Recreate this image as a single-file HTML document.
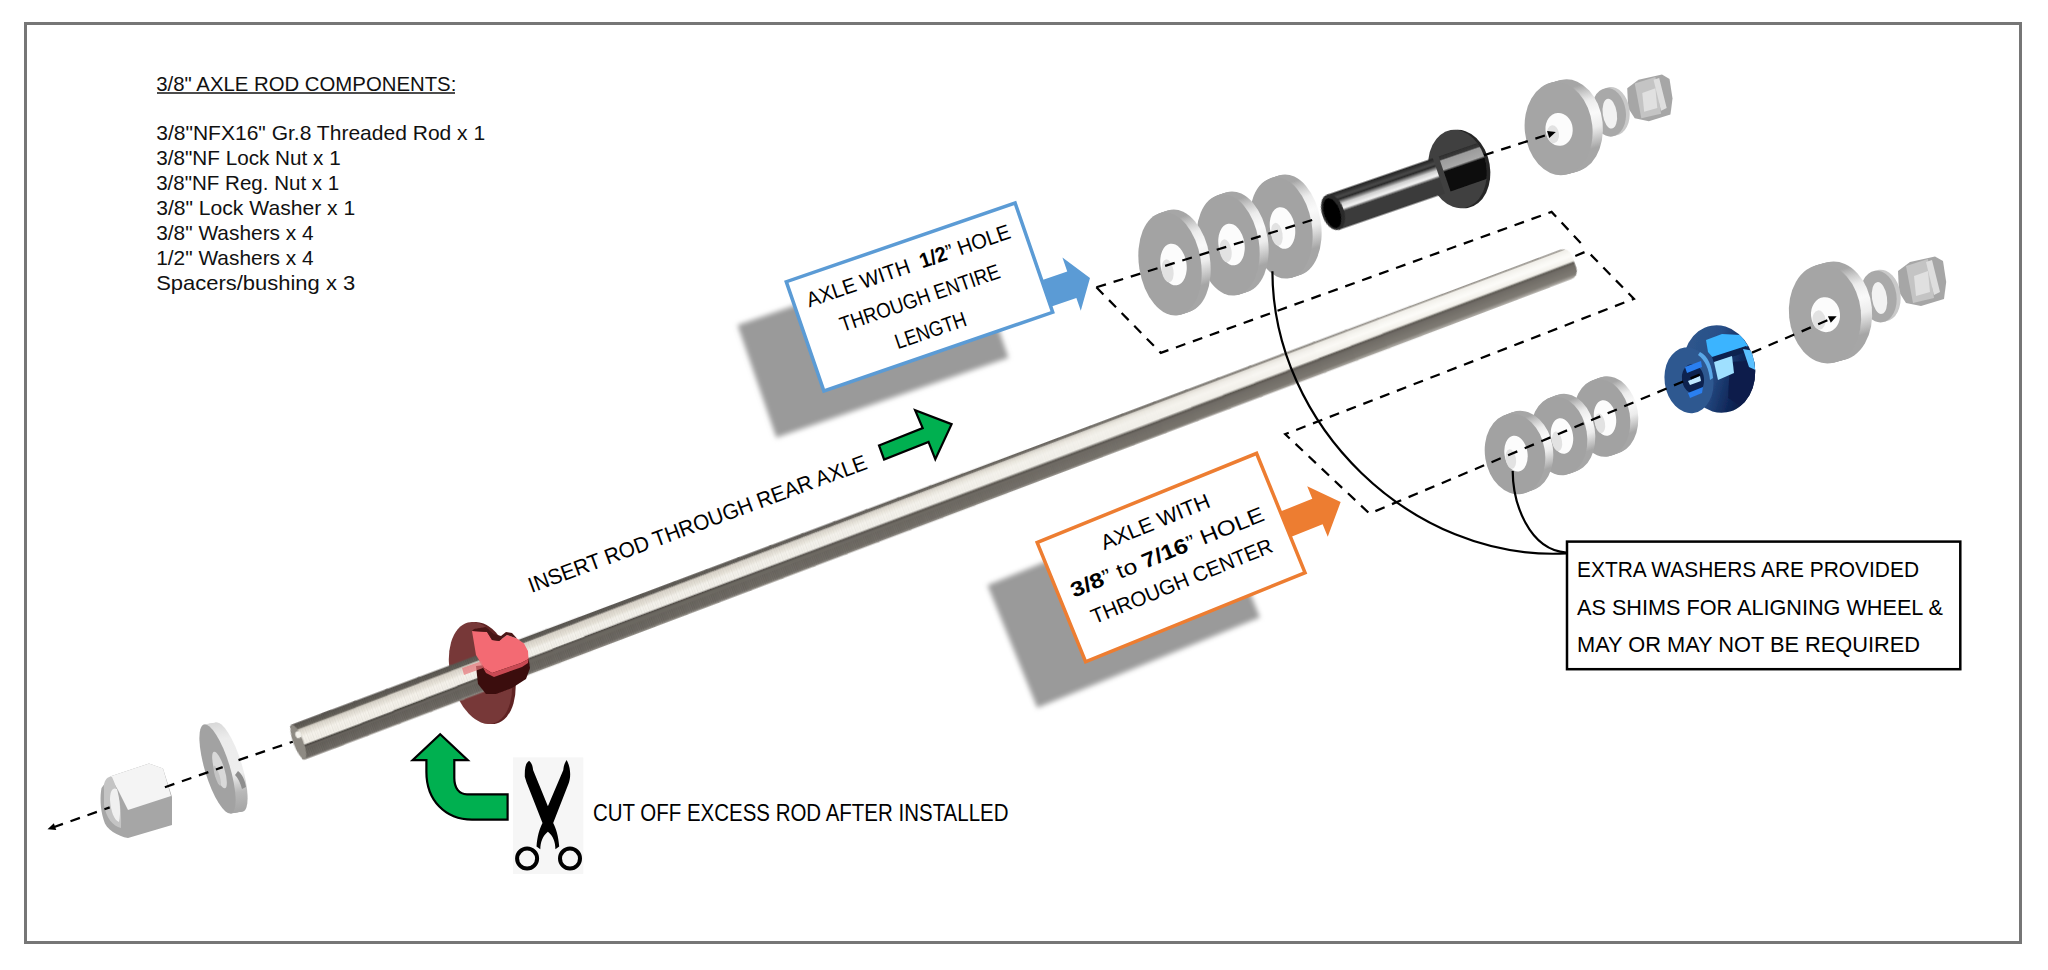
<!DOCTYPE html>
<html><head><meta charset="utf-8"><style>
html,body{margin:0;padding:0;background:#fff;}
svg{display:block;}
</style></head><body>
<svg width="2048" height="970" viewBox="0 0 2048 970">
<rect width="2048" height="970" fill="#fff"/>

<defs>
  <filter id="shblur" x="-20%" y="-20%" width="140%" height="140%"><feGaussianBlur stdDeviation="2.6"/></filter>
  <filter id="b1" x="-20%" y="-20%" width="140%" height="140%"><feGaussianBlur stdDeviation="0.8"/></filter>
  <filter id="b05" x="-20%" y="-20%" width="140%" height="140%"><feGaussianBlur stdDeviation="0.5"/></filter>
  <linearGradient id="rodg" x1="0" y1="0" x2="0" y2="1">
    <stop offset="0" stop-color="#4e4a45"/>
    <stop offset="0.10" stop-color="#66625c"/>
    <stop offset="0.14" stop-color="#cdc7bd"/>
    <stop offset="0.34" stop-color="#e3dfd5"/>
    <stop offset="0.40" stop-color="#f6f4ee"/>
    <stop offset="0.54" stop-color="#f3f1ea"/>
    <stop offset="0.58" stop-color="#47433e"/>
    <stop offset="0.64" stop-color="#67635d"/>
    <stop offset="0.92" stop-color="#6f6b65"/>
    <stop offset="1" stop-color="#9a968f"/>
  </linearGradient>
  <linearGradient id="redg" x1="0" y1="0" x2="0" y2="1">
    <stop offset="0" stop-color="#e85a62"/>
    <stop offset="0.2" stop-color="#f56a72"/>
    <stop offset="0.45" stop-color="#f77880"/>
    <stop offset="0.52" stop-color="#300808"/>
    <stop offset="0.7" stop-color="#4a1212"/>
    <stop offset="1" stop-color="#6a2626"/>
  </linearGradient>
  <linearGradient id="blkg" x1="0" y1="0" x2="0" y2="1">
    <stop offset="0" stop-color="#1e1e1e"/>
    <stop offset="0.15" stop-color="#4a4a4a"/>
    <stop offset="0.22" stop-color="#2a2a2a"/>
    <stop offset="0.35" stop-color="#cfcfcf"/>
    <stop offset="0.48" stop-color="#f4f4f4"/>
    <stop offset="0.56" stop-color="#3a3a3a"/>
    <stop offset="1" stop-color="#3a3a3a"/>
  </linearGradient>
  <radialGradient id="wedge" cx="0.97" cy="0.38" r="0.38">
    <stop offset="0" stop-color="#fafafa"/>
    <stop offset="0.4" stop-color="#ececec"/>
    <stop offset="1" stop-color="#a6a6a6"/>
  </radialGradient>
  <filter id="b07" x="-5%" y="-50%" width="110%" height="200%"><feGaussianBlur stdDeviation="0.7"/></filter>
  <linearGradient id="rodg2" x1="0" y1="0" x2="0" y2="1">
    <stop offset="0" stop-color="#8a8680"/>
    <stop offset="0.05" stop-color="#9c9891"/>
    <stop offset="0.09" stop-color="#e8e5dd"/>
    <stop offset="0.22" stop-color="#f4f2ec"/>
    <stop offset="0.48" stop-color="#f9f8f4"/>
    <stop offset="0.56" stop-color="#e6e3da"/>
    <stop offset="0.62" stop-color="#85817a"/>
    <stop offset="0.8" stop-color="#77736c"/>
    <stop offset="0.95" stop-color="#8a867f"/>
    <stop offset="1" stop-color="#b5b2ac"/>
  </linearGradient>
  <pattern id="thr" patternUnits="userSpaceOnUse" width="2.2" height="10"><rect width="1.1" height="10" fill="#3a3733"/></pattern>
  <pattern id="thr2" patternUnits="userSpaceOnUse" width="2.6" height="10"><rect width="1.0" height="10" fill="#8a857c"/></pattern>
  <linearGradient id="wedge2" x1="0" y1="0.2" x2="1" y2="0.8">
    <stop offset="0" stop-color="#bdbdbd"/>
    <stop offset="0.45" stop-color="#f4f4f4"/>
    <stop offset="0.7" stop-color="#e8e8e8"/>
    <stop offset="0.85" stop-color="#8e8e8e"/>
    <stop offset="1" stop-color="#a8a8a8"/>
  </linearGradient>
  <linearGradient id="wedge3" x1="0" y1="0" x2="0" y2="1">
    <stop offset="0" stop-color="#d8d8d8"/>
    <stop offset="0.2" stop-color="#ececec"/>
    <stop offset="0.6" stop-color="#eeeeee"/>
    <stop offset="0.8" stop-color="#b8b8b8"/>
    <stop offset="1" stop-color="#a5a5a5"/>
  </linearGradient>
  <linearGradient id="bflange" x1="0" y1="0" x2="1" y2="0.6">
    <stop offset="0" stop-color="#31598e"/>
    <stop offset="0.5" stop-color="#284f88"/>
    <stop offset="0.8" stop-color="#10285a"/>
    <stop offset="1" stop-color="#0a1a40"/>
  </linearGradient>
  <linearGradient id="bhub" x1="0" y1="0" x2="0" y2="1">
    <stop offset="0" stop-color="#1a3a70"/>
    <stop offset="0.1" stop-color="#2e8ee0"/>
    <stop offset="0.16" stop-color="#3ab4ff"/>
    <stop offset="0.32" stop-color="#3ab4ff"/>
    <stop offset="0.38" stop-color="#0a2050"/>
    <stop offset="0.46" stop-color="#0e2a60"/>
    <stop offset="0.52" stop-color="#a8e4ff"/>
    <stop offset="0.64" stop-color="#8fd8ff"/>
    <stop offset="0.7" stop-color="#0c2350"/>
    <stop offset="1" stop-color="#0a1a40"/>
  </linearGradient>
  <linearGradient id="collg" x1="0" y1="0" x2="0" y2="1">
    <stop offset="0" stop-color="#2c2c2c"/>
    <stop offset="0.1" stop-color="#3a3a3a"/>
    <stop offset="0.14" stop-color="#9c9c9c"/>
    <stop offset="0.38" stop-color="#a8a8a8"/>
    <stop offset="0.45" stop-color="#0c0c0c"/>
    <stop offset="1" stop-color="#0c0c0c"/>
  </linearGradient>
</defs>
<rect x="25.5" y="23.5" width="1995" height="919" fill="none" stroke="#767676" stroke-width="3"/><g font-family='"Liberation Sans", sans-serif' fill="#111"><text x="156.3" y="90.6" font-size="21" font-weight="normal" text-anchor="start" textLength="300" lengthAdjust="spacingAndGlyphs" >3/8&quot; AXLE ROD COMPONENTS:</text><rect x="157" y="92.2" width="298" height="1.6" fill="#222"/><text x="156.2" y="139.5" font-size="21" font-weight="normal" text-anchor="start" textLength="329" lengthAdjust="spacingAndGlyphs" >3/8&quot;NFX16&quot; Gr.8 Threaded Rod x 1</text><text x="156.2" y="164.9" font-size="21" font-weight="normal" text-anchor="start" textLength="184.5" lengthAdjust="spacingAndGlyphs" >3/8&quot;NF Lock Nut x 1</text><text x="156.2" y="190.0" font-size="21" font-weight="normal" text-anchor="start" textLength="183" lengthAdjust="spacingAndGlyphs" >3/8&quot;NF Reg. Nut x 1</text><text x="156.2" y="215.0" font-size="21" font-weight="normal" text-anchor="start" textLength="199" lengthAdjust="spacingAndGlyphs" >3/8&quot; Lock Washer x 1</text><text x="156.2" y="239.7" font-size="21" font-weight="normal" text-anchor="start" textLength="157.5" lengthAdjust="spacingAndGlyphs" >3/8&quot; Washers x 4</text><text x="156.2" y="264.7" font-size="21" font-weight="normal" text-anchor="start" textLength="157.5" lengthAdjust="spacingAndGlyphs" >1/2&quot; Washers x 4</text><text x="156.2" y="289.8" font-size="21" font-weight="normal" text-anchor="start" textLength="199" lengthAdjust="spacingAndGlyphs" >Spacers/bushing x 3</text></g><g transform="translate(873.00,341.40) rotate(-19)"><rect x="-122.75" y="-59.5" width="245.5" height="119" fill="#9a9a9a" filter="url(#shblur)"/></g><g transform="translate(1123.70,601.30) rotate(-22.1)"><rect x="-120.15" y="-66.15" width="240.3" height="132.3" fill="#9a9a9a" filter="url(#shblur)"/></g><g filter="url(#b07)"><ellipse cx="0" cy="0" rx="30" ry="52" fill="#5e2222" transform="translate(484.00,673.00) rotate(-14)" /><ellipse cx="0" cy="0" rx="30" ry="52" fill="#773737" transform="translate(480.50,673.00) rotate(-14)" /></g><g transform="translate(296,743) rotate(-20.648)"><defs><linearGradient id="rg0" x1="0" y1="0" x2="0" y2="1"><stop offset="0.000" stop-color="#5a5651"/><stop offset="0.160" stop-color="#6a665f"/><stop offset="0.200" stop-color="#d9d4ca"/><stop offset="0.330" stop-color="#ece8df"/><stop offset="0.400" stop-color="#f7f4ed"/><stop offset="0.600" stop-color="#f3f0e9"/><stop offset="0.640" stop-color="#45413c"/><stop offset="0.690" stop-color="#66625c"/><stop offset="0.940" stop-color="#716d67"/><stop offset="1.000" stop-color="#9a968f"/></linearGradient><linearGradient id="rg1" x1="0" y1="0" x2="0" y2="1"><stop offset="0.000" stop-color="#5a5651"/><stop offset="0.160" stop-color="#6a665f"/><stop offset="0.200" stop-color="#d9d4ca"/><stop offset="0.330" stop-color="#ece8df"/><stop offset="0.400" stop-color="#f7f4ed"/><stop offset="0.600" stop-color="#f3f0e9"/><stop offset="0.640" stop-color="#45413c"/><stop offset="0.690" stop-color="#66625c"/><stop offset="0.940" stop-color="#716d67"/><stop offset="1.000" stop-color="#9a968f"/></linearGradient><linearGradient id="rg2" x1="0" y1="0" x2="0" y2="1"><stop offset="0.000" stop-color="#5a5651"/><stop offset="0.154" stop-color="#6a665f"/><stop offset="0.194" stop-color="#d9d4ca"/><stop offset="0.327" stop-color="#ece8df"/><stop offset="0.397" stop-color="#f7f4ed"/><stop offset="0.593" stop-color="#f3f0e9"/><stop offset="0.633" stop-color="#45413c"/><stop offset="0.682" stop-color="#66625c"/><stop offset="0.938" stop-color="#716d67"/><stop offset="1.000" stop-color="#9a968f"/></linearGradient><linearGradient id="rg3" x1="0" y1="0" x2="0" y2="1"><stop offset="0.000" stop-color="#5a5651"/><stop offset="0.147" stop-color="#69655f"/><stop offset="0.187" stop-color="#d9d4ca"/><stop offset="0.323" stop-color="#ebe7de"/><stop offset="0.393" stop-color="#f7f4ed"/><stop offset="0.584" stop-color="#f3f0e9"/><stop offset="0.623" stop-color="#46423d"/><stop offset="0.672" stop-color="#67635d"/><stop offset="0.936" stop-color="#716d67"/><stop offset="1.000" stop-color="#9a968f"/></linearGradient><linearGradient id="rg4" x1="0" y1="0" x2="0" y2="1"><stop offset="0.000" stop-color="#5a5651"/><stop offset="0.139" stop-color="#69655e"/><stop offset="0.179" stop-color="#d9d3c9"/><stop offset="0.320" stop-color="#ebe7dd"/><stop offset="0.390" stop-color="#f7f4ed"/><stop offset="0.576" stop-color="#f3f0ea"/><stop offset="0.614" stop-color="#47433e"/><stop offset="0.662" stop-color="#67635d"/><stop offset="0.933" stop-color="#716d67"/><stop offset="1.000" stop-color="#9a968f"/></linearGradient><linearGradient id="rg5" x1="0" y1="0" x2="0" y2="1"><stop offset="0.000" stop-color="#5a5651"/><stop offset="0.132" stop-color="#69655e"/><stop offset="0.172" stop-color="#d9d3c9"/><stop offset="0.316" stop-color="#eae6dd"/><stop offset="0.386" stop-color="#f7f4ed"/><stop offset="0.567" stop-color="#f3f0ea"/><stop offset="0.605" stop-color="#47433e"/><stop offset="0.653" stop-color="#68645d"/><stop offset="0.931" stop-color="#716d67"/><stop offset="1.000" stop-color="#9a968f"/></linearGradient><linearGradient id="rg6" x1="0" y1="0" x2="0" y2="1"><stop offset="0.000" stop-color="#5a5651"/><stop offset="0.125" stop-color="#68645e"/><stop offset="0.165" stop-color="#d8d3c9"/><stop offset="0.312" stop-color="#eae6dc"/><stop offset="0.382" stop-color="#f6f4ee"/><stop offset="0.559" stop-color="#f3f1ea"/><stop offset="0.596" stop-color="#48443f"/><stop offset="0.643" stop-color="#68645e"/><stop offset="0.928" stop-color="#716d67"/><stop offset="1.000" stop-color="#9a968f"/></linearGradient><linearGradient id="rg7" x1="0" y1="0" x2="0" y2="1"><stop offset="0.000" stop-color="#5a5651"/><stop offset="0.117" stop-color="#68645e"/><stop offset="0.157" stop-color="#d8d3c9"/><stop offset="0.309" stop-color="#e9e5db"/><stop offset="0.379" stop-color="#f6f4ee"/><stop offset="0.550" stop-color="#f3f1ea"/><stop offset="0.586" stop-color="#494540"/><stop offset="0.633" stop-color="#69655e"/><stop offset="0.926" stop-color="#716d67"/><stop offset="1.000" stop-color="#9a968f"/></linearGradient><linearGradient id="rg8" x1="0" y1="0" x2="0" y2="1"><stop offset="0.000" stop-color="#5a5651"/><stop offset="0.110" stop-color="#67635d"/><stop offset="0.150" stop-color="#d8d2c8"/><stop offset="0.305" stop-color="#e9e5db"/><stop offset="0.375" stop-color="#f6f4ee"/><stop offset="0.541" stop-color="#f3f1eb"/><stop offset="0.577" stop-color="#494540"/><stop offset="0.623" stop-color="#69655f"/><stop offset="0.923" stop-color="#716d67"/><stop offset="1.000" stop-color="#9a968f"/></linearGradient><linearGradient id="rg9" x1="0" y1="0" x2="0" y2="1"><stop offset="0.000" stop-color="#5a5651"/><stop offset="0.102" stop-color="#67635d"/><stop offset="0.142" stop-color="#d8d2c8"/><stop offset="0.301" stop-color="#e8e4da"/><stop offset="0.371" stop-color="#f6f4ee"/><stop offset="0.533" stop-color="#f3f1eb"/><stop offset="0.568" stop-color="#4a4641"/><stop offset="0.613" stop-color="#6a665f"/><stop offset="0.921" stop-color="#716d67"/><stop offset="1.000" stop-color="#9a968f"/></linearGradient><linearGradient id="rg10" x1="0" y1="0" x2="0" y2="1"><stop offset="0.000" stop-color="#5b5752"/><stop offset="0.098" stop-color="#68645e"/><stop offset="0.138" stop-color="#d8d2c8"/><stop offset="0.294" stop-color="#e8e4da"/><stop offset="0.367" stop-color="#f6f4ee"/><stop offset="0.530" stop-color="#f3f1eb"/><stop offset="0.566" stop-color="#4b4742"/><stop offset="0.612" stop-color="#6a665f"/><stop offset="0.920" stop-color="#716d67"/><stop offset="1.000" stop-color="#9a968f"/></linearGradient><linearGradient id="rg11" x1="0" y1="0" x2="0" y2="1"><stop offset="0.000" stop-color="#5c5852"/><stop offset="0.096" stop-color="#69655f"/><stop offset="0.135" stop-color="#d8d2c8"/><stop offset="0.286" stop-color="#e8e4db"/><stop offset="0.363" stop-color="#f6f4ee"/><stop offset="0.529" stop-color="#f3f1eb"/><stop offset="0.568" stop-color="#4c4842"/><stop offset="0.616" stop-color="#6a6660"/><stop offset="0.921" stop-color="#726e67"/><stop offset="1.000" stop-color="#9b9790"/></linearGradient><linearGradient id="rg12" x1="0" y1="0" x2="0" y2="1"><stop offset="0.000" stop-color="#5d5953"/><stop offset="0.094" stop-color="#6a6660"/><stop offset="0.132" stop-color="#d8d2c8"/><stop offset="0.278" stop-color="#e8e5db"/><stop offset="0.359" stop-color="#f6f4ee"/><stop offset="0.528" stop-color="#f3f1eb"/><stop offset="0.571" stop-color="#4d4943"/><stop offset="0.619" stop-color="#6b6760"/><stop offset="0.922" stop-color="#726e68"/><stop offset="1.000" stop-color="#9b9790"/></linearGradient><linearGradient id="rg13" x1="0" y1="0" x2="0" y2="1"><stop offset="0.000" stop-color="#5d5954"/><stop offset="0.091" stop-color="#6b6761"/><stop offset="0.129" stop-color="#d8d2c8"/><stop offset="0.270" stop-color="#e9e5db"/><stop offset="0.355" stop-color="#f6f4ee"/><stop offset="0.528" stop-color="#f3f1eb"/><stop offset="0.573" stop-color="#4d4944"/><stop offset="0.623" stop-color="#6b6760"/><stop offset="0.922" stop-color="#726e68"/><stop offset="1.000" stop-color="#9b9791"/></linearGradient><linearGradient id="rg14" x1="0" y1="0" x2="0" y2="1"><stop offset="0.000" stop-color="#5e5a55"/><stop offset="0.089" stop-color="#6c6862"/><stop offset="0.126" stop-color="#d7d2c9"/><stop offset="0.261" stop-color="#e9e5dc"/><stop offset="0.351" stop-color="#f5f3ed"/><stop offset="0.527" stop-color="#f2f0ea"/><stop offset="0.575" stop-color="#4e4a45"/><stop offset="0.627" stop-color="#6b6761"/><stop offset="0.923" stop-color="#736f68"/><stop offset="1.000" stop-color="#9c9891"/></linearGradient><linearGradient id="rg15" x1="0" y1="0" x2="0" y2="1"><stop offset="0.000" stop-color="#5f5b56"/><stop offset="0.087" stop-color="#6d6963"/><stop offset="0.123" stop-color="#d7d2c9"/><stop offset="0.253" stop-color="#e9e5dc"/><stop offset="0.347" stop-color="#f5f3ed"/><stop offset="0.527" stop-color="#f2f0ea"/><stop offset="0.577" stop-color="#4f4b46"/><stop offset="0.630" stop-color="#6c6861"/><stop offset="0.923" stop-color="#736f69"/><stop offset="1.000" stop-color="#9c9891"/></linearGradient><linearGradient id="rg16" x1="0" y1="0" x2="0" y2="1"><stop offset="0.000" stop-color="#605c57"/><stop offset="0.084" stop-color="#6e6a64"/><stop offset="0.120" stop-color="#d7d2c9"/><stop offset="0.245" stop-color="#e9e6dc"/><stop offset="0.342" stop-color="#f5f3ed"/><stop offset="0.526" stop-color="#f2f0ea"/><stop offset="0.579" stop-color="#504c47"/><stop offset="0.634" stop-color="#6c6861"/><stop offset="0.924" stop-color="#736f69"/><stop offset="1.000" stop-color="#9c9892"/></linearGradient><linearGradient id="rg17" x1="0" y1="0" x2="0" y2="1"><stop offset="0.000" stop-color="#615d58"/><stop offset="0.082" stop-color="#706c65"/><stop offset="0.117" stop-color="#d7d2c9"/><stop offset="0.236" stop-color="#e9e6dd"/><stop offset="0.338" stop-color="#f5f3ed"/><stop offset="0.525" stop-color="#f2f0ea"/><stop offset="0.581" stop-color="#514d48"/><stop offset="0.637" stop-color="#6c6862"/><stop offset="0.925" stop-color="#747069"/><stop offset="1.000" stop-color="#9d9992"/></linearGradient><linearGradient id="rg18" x1="0" y1="0" x2="0" y2="1"><stop offset="0.000" stop-color="#625e59"/><stop offset="0.079" stop-color="#716d66"/><stop offset="0.114" stop-color="#d7d2c9"/><stop offset="0.228" stop-color="#eae6dd"/><stop offset="0.334" stop-color="#f5f3ed"/><stop offset="0.525" stop-color="#f2f0ea"/><stop offset="0.583" stop-color="#524e49"/><stop offset="0.641" stop-color="#6d6962"/><stop offset="0.925" stop-color="#74706a"/><stop offset="1.000" stop-color="#9d9993"/></linearGradient><linearGradient id="rg19" x1="0" y1="0" x2="0" y2="1"><stop offset="0.000" stop-color="#635f5a"/><stop offset="0.077" stop-color="#726e67"/><stop offset="0.111" stop-color="#d7d2c9"/><stop offset="0.220" stop-color="#eae6dd"/><stop offset="0.330" stop-color="#f5f3ed"/><stop offset="0.524" stop-color="#f2f0ea"/><stop offset="0.585" stop-color="#534f4a"/><stop offset="0.644" stop-color="#6d6962"/><stop offset="0.926" stop-color="#74706a"/><stop offset="1.000" stop-color="#9d9993"/></linearGradient><linearGradient id="rg20" x1="0" y1="0" x2="0" y2="1"><stop offset="0.000" stop-color="#64605a"/><stop offset="0.075" stop-color="#736f68"/><stop offset="0.108" stop-color="#d7d2c9"/><stop offset="0.212" stop-color="#eae7de"/><stop offset="0.326" stop-color="#f5f3ed"/><stop offset="0.524" stop-color="#f2f0ea"/><stop offset="0.587" stop-color="#54504a"/><stop offset="0.648" stop-color="#6d6963"/><stop offset="0.926" stop-color="#75716a"/><stop offset="1.000" stop-color="#9e9a93"/></linearGradient><linearGradient id="rg21" x1="0" y1="0" x2="0" y2="1"><stop offset="0.000" stop-color="#65615b"/><stop offset="0.072" stop-color="#747069"/><stop offset="0.105" stop-color="#d7d2c9"/><stop offset="0.203" stop-color="#eae7de"/><stop offset="0.322" stop-color="#f5f3ed"/><stop offset="0.523" stop-color="#f2f0ea"/><stop offset="0.589" stop-color="#55514b"/><stop offset="0.651" stop-color="#6d6963"/><stop offset="0.927" stop-color="#75716a"/><stop offset="1.000" stop-color="#9e9a94"/></linearGradient><linearGradient id="rg22" x1="0" y1="0" x2="0" y2="1"><stop offset="0.000" stop-color="#66625c"/><stop offset="0.070" stop-color="#75716a"/><stop offset="0.103" stop-color="#d7d2c9"/><stop offset="0.195" stop-color="#eae7de"/><stop offset="0.318" stop-color="#f5f3ed"/><stop offset="0.523" stop-color="#f2f0ea"/><stop offset="0.591" stop-color="#56524c"/><stop offset="0.655" stop-color="#6e6a63"/><stop offset="0.927" stop-color="#75716b"/><stop offset="1.000" stop-color="#9e9a94"/></linearGradient><linearGradient id="rg23" x1="0" y1="0" x2="0" y2="1"><stop offset="0.000" stop-color="#67635d"/><stop offset="0.068" stop-color="#76726c"/><stop offset="0.100" stop-color="#d6d2ca"/><stop offset="0.187" stop-color="#eae7df"/><stop offset="0.313" stop-color="#f4f2ec"/><stop offset="0.522" stop-color="#f1efe9"/><stop offset="0.593" stop-color="#57534d"/><stop offset="0.659" stop-color="#6e6a64"/><stop offset="0.928" stop-color="#76726b"/><stop offset="1.000" stop-color="#9f9b95"/></linearGradient><linearGradient id="rg24" x1="0" y1="0" x2="0" y2="1"><stop offset="0.000" stop-color="#68645e"/><stop offset="0.065" stop-color="#77736d"/><stop offset="0.097" stop-color="#d6d2ca"/><stop offset="0.178" stop-color="#ebe7df"/><stop offset="0.309" stop-color="#f4f2ec"/><stop offset="0.521" stop-color="#f1efe9"/><stop offset="0.595" stop-color="#58544e"/><stop offset="0.662" stop-color="#6e6a64"/><stop offset="0.929" stop-color="#76726b"/><stop offset="1.000" stop-color="#9f9b95"/></linearGradient><linearGradient id="rg25" x1="0" y1="0" x2="0" y2="1"><stop offset="0.000" stop-color="#69655f"/><stop offset="0.063" stop-color="#79756e"/><stop offset="0.094" stop-color="#d6d2ca"/><stop offset="0.170" stop-color="#ebe8e0"/><stop offset="0.305" stop-color="#f4f2ec"/><stop offset="0.521" stop-color="#f1efe9"/><stop offset="0.597" stop-color="#59554f"/><stop offset="0.666" stop-color="#6f6b65"/><stop offset="0.929" stop-color="#77736c"/><stop offset="1.000" stop-color="#a09c95"/></linearGradient><linearGradient id="rg26" x1="0" y1="0" x2="0" y2="1"><stop offset="0.000" stop-color="#6a6660"/><stop offset="0.061" stop-color="#7a766f"/><stop offset="0.091" stop-color="#d6d2ca"/><stop offset="0.162" stop-color="#ebe8e0"/><stop offset="0.301" stop-color="#f4f2ec"/><stop offset="0.520" stop-color="#f1efe9"/><stop offset="0.600" stop-color="#5a5650"/><stop offset="0.669" stop-color="#6f6b65"/><stop offset="0.930" stop-color="#77736c"/><stop offset="1.000" stop-color="#a09c96"/></linearGradient><linearGradient id="rg27" x1="0" y1="0" x2="0" y2="1"><stop offset="0.000" stop-color="#6d6963"/><stop offset="0.058" stop-color="#7f7b74"/><stop offset="0.088" stop-color="#d9d5cd"/><stop offset="0.164" stop-color="#ece9e2"/><stop offset="0.300" stop-color="#f5f3ed"/><stop offset="0.515" stop-color="#f1efe9"/><stop offset="0.593" stop-color="#5a5650"/><stop offset="0.663" stop-color="#6f6b65"/><stop offset="0.925" stop-color="#78746d"/><stop offset="1.000" stop-color="#a29e98"/></linearGradient><linearGradient id="rg28" x1="0" y1="0" x2="0" y2="1"><stop offset="0.000" stop-color="#716d67"/><stop offset="0.055" stop-color="#848079"/><stop offset="0.085" stop-color="#dcd8d1"/><stop offset="0.169" stop-color="#eeebe4"/><stop offset="0.300" stop-color="#f6f4ef"/><stop offset="0.509" stop-color="#f1efe9"/><stop offset="0.584" stop-color="#5a5650"/><stop offset="0.654" stop-color="#6f6b65"/><stop offset="0.919" stop-color="#79756e"/><stop offset="1.000" stop-color="#a5a19b"/></linearGradient><linearGradient id="rg29" x1="0" y1="0" x2="0" y2="1"><stop offset="0.000" stop-color="#75716b"/><stop offset="0.053" stop-color="#8a867f"/><stop offset="0.083" stop-color="#dfdcd5"/><stop offset="0.174" stop-color="#f0ede7"/><stop offset="0.300" stop-color="#f7f5f0"/><stop offset="0.502" stop-color="#f1efe9"/><stop offset="0.575" stop-color="#5a5650"/><stop offset="0.645" stop-color="#6f6b65"/><stop offset="0.912" stop-color="#7a766f"/><stop offset="1.000" stop-color="#a7a49e"/></linearGradient><linearGradient id="rg30" x1="0" y1="0" x2="0" y2="1"><stop offset="0.000" stop-color="#79756f"/><stop offset="0.050" stop-color="#908c85"/><stop offset="0.080" stop-color="#e3dfd8"/><stop offset="0.179" stop-color="#f1efe9"/><stop offset="0.300" stop-color="#f8f6f2"/><stop offset="0.496" stop-color="#f1efe9"/><stop offset="0.566" stop-color="#5a5650"/><stop offset="0.636" stop-color="#6f6b65"/><stop offset="0.906" stop-color="#7b7770"/><stop offset="1.000" stop-color="#aaa7a1"/></linearGradient><linearGradient id="rg31" x1="0" y1="0" x2="0" y2="1"><stop offset="0.000" stop-color="#7d7973"/><stop offset="0.048" stop-color="#96928b"/><stop offset="0.078" stop-color="#e6e3dc"/><stop offset="0.184" stop-color="#f3f1ec"/><stop offset="0.300" stop-color="#f9f7f3"/><stop offset="0.490" stop-color="#f2f0ea"/><stop offset="0.557" stop-color="#5a5650"/><stop offset="0.627" stop-color="#6f6b65"/><stop offset="0.900" stop-color="#7c7871"/><stop offset="1.000" stop-color="#ada9a3"/></linearGradient><linearGradient id="rg32" x1="0" y1="0" x2="0" y2="1"><stop offset="0.000" stop-color="#827e78"/><stop offset="0.045" stop-color="#9c9891"/><stop offset="0.075" stop-color="#e9e7e0"/><stop offset="0.189" stop-color="#f5f3ee"/><stop offset="0.300" stop-color="#faf9f5"/><stop offset="0.483" stop-color="#f2f0ea"/><stop offset="0.548" stop-color="#5a5650"/><stop offset="0.618" stop-color="#6f6b65"/><stop offset="0.893" stop-color="#7d7972"/><stop offset="1.000" stop-color="#afaca6"/></linearGradient><linearGradient id="rg33" x1="0" y1="0" x2="0" y2="1"><stop offset="0.000" stop-color="#86827c"/><stop offset="0.043" stop-color="#a29e97"/><stop offset="0.073" stop-color="#eceae4"/><stop offset="0.195" stop-color="#f6f5f0"/><stop offset="0.300" stop-color="#fbfaf6"/><stop offset="0.477" stop-color="#f2f0ea"/><stop offset="0.539" stop-color="#5a5650"/><stop offset="0.609" stop-color="#6f6b65"/><stop offset="0.887" stop-color="#7e7a73"/><stop offset="1.000" stop-color="#b2afa9"/></linearGradient><linearGradient id="rg34" x1="0" y1="0" x2="0" y2="1"><stop offset="0.000" stop-color="#8a8680"/><stop offset="0.040" stop-color="#a8a49d"/><stop offset="0.070" stop-color="#f0eee8"/><stop offset="0.200" stop-color="#f8f7f3"/><stop offset="0.300" stop-color="#fcfbf8"/><stop offset="0.470" stop-color="#f2f0ea"/><stop offset="0.531" stop-color="#5a5650"/><stop offset="0.601" stop-color="#6f6b65"/><stop offset="0.880" stop-color="#7f7b74"/><stop offset="1.000" stop-color="#b5b2ac"/></linearGradient><linearGradient id="rg35" x1="0" y1="0" x2="0" y2="1"><stop offset="0.000" stop-color="#8a8680"/><stop offset="0.040" stop-color="#a8a49d"/><stop offset="0.070" stop-color="#f0eee8"/><stop offset="0.200" stop-color="#f8f7f3"/><stop offset="0.300" stop-color="#fcfbf8"/><stop offset="0.470" stop-color="#f2f0ea"/><stop offset="0.530" stop-color="#5a5650"/><stop offset="0.600" stop-color="#6f6b65"/><stop offset="0.880" stop-color="#7f7b74"/><stop offset="1.000" stop-color="#b5b2ac"/></linearGradient><linearGradient id="rg36" x1="0" y1="0" x2="0" y2="1"><stop offset="0.000" stop-color="#8a8680"/><stop offset="0.040" stop-color="#a8a49d"/><stop offset="0.070" stop-color="#f0eee8"/><stop offset="0.200" stop-color="#f8f7f3"/><stop offset="0.300" stop-color="#fcfbf8"/><stop offset="0.470" stop-color="#f2f0ea"/><stop offset="0.530" stop-color="#5a5650"/><stop offset="0.600" stop-color="#6f6b65"/><stop offset="0.880" stop-color="#7f7b74"/><stop offset="1.000" stop-color="#b5b2ac"/></linearGradient><linearGradient id="rg37" x1="0" y1="0" x2="0" y2="1"><stop offset="0.000" stop-color="#8a8680"/><stop offset="0.040" stop-color="#a8a49d"/><stop offset="0.070" stop-color="#f0eee8"/><stop offset="0.200" stop-color="#f8f7f3"/><stop offset="0.300" stop-color="#fcfbf8"/><stop offset="0.470" stop-color="#f2f0ea"/><stop offset="0.530" stop-color="#5a5650"/><stop offset="0.600" stop-color="#6f6b65"/><stop offset="0.880" stop-color="#7f7b74"/><stop offset="1.000" stop-color="#b5b2ac"/></linearGradient><linearGradient id="rg38" x1="0" y1="0" x2="0" y2="1"><stop offset="0.000" stop-color="#8a8680"/><stop offset="0.040" stop-color="#a8a49d"/><stop offset="0.070" stop-color="#f0eee8"/><stop offset="0.200" stop-color="#f8f7f3"/><stop offset="0.300" stop-color="#fcfbf8"/><stop offset="0.470" stop-color="#f2f0ea"/><stop offset="0.530" stop-color="#5a5650"/><stop offset="0.600" stop-color="#6f6b65"/><stop offset="0.880" stop-color="#7f7b74"/><stop offset="1.000" stop-color="#b5b2ac"/></linearGradient><linearGradient id="rg39" x1="0" y1="0" x2="0" y2="1"><stop offset="0.000" stop-color="#8a8680"/><stop offset="0.040" stop-color="#a8a49d"/><stop offset="0.070" stop-color="#f0eee8"/><stop offset="0.200" stop-color="#f8f7f3"/><stop offset="0.300" stop-color="#fcfbf8"/><stop offset="0.470" stop-color="#f2f0ea"/><stop offset="0.530" stop-color="#5a5650"/><stop offset="0.600" stop-color="#6f6b65"/><stop offset="0.880" stop-color="#7f7b74"/><stop offset="1.000" stop-color="#b5b2ac"/></linearGradient></defs><g filter="url(#b07)"><rect x="0" y="-18.71" width="46.1" height="37.42" rx="3" fill="url(#rg0)"/><rect x="34.1" y="-18.64" width="36.6" height="37.27" fill="url(#rg1)"/><rect x="68.3" y="-18.56" width="36.6" height="37.12" fill="url(#rg2)"/><rect x="102.4" y="-18.49" width="36.6" height="36.98" fill="url(#rg3)"/><rect x="136.6" y="-18.41" width="36.6" height="36.83" fill="url(#rg4)"/><rect x="170.7" y="-18.34" width="36.6" height="36.67" fill="url(#rg5)"/><rect x="204.9" y="-18.26" width="36.6" height="36.52" fill="url(#rg6)"/><rect x="239.0" y="-18.19" width="36.6" height="36.38" fill="url(#rg7)"/><rect x="273.1" y="-18.11" width="36.6" height="36.23" fill="url(#rg8)"/><rect x="307.3" y="-18.04" width="36.6" height="36.08" fill="url(#rg9)"/><rect x="341.4" y="-17.96" width="36.6" height="35.92" fill="url(#rg10)"/><rect x="375.6" y="-17.89" width="36.6" height="35.77" fill="url(#rg11)"/><rect x="409.7" y="-17.81" width="36.6" height="35.62" fill="url(#rg12)"/><rect x="443.9" y="-17.74" width="36.6" height="35.48" fill="url(#rg13)"/><rect x="478.0" y="-17.66" width="36.6" height="35.33" fill="url(#rg14)"/><rect x="512.1" y="-17.59" width="36.6" height="35.17" fill="url(#rg15)"/><rect x="546.3" y="-17.51" width="36.6" height="35.02" fill="url(#rg16)"/><rect x="580.4" y="-17.44" width="36.6" height="34.88" fill="url(#rg17)"/><rect x="614.6" y="-17.36" width="36.6" height="34.73" fill="url(#rg18)"/><rect x="648.7" y="-17.29" width="36.6" height="34.58" fill="url(#rg19)"/><rect x="682.9" y="-17.21" width="36.6" height="34.42" fill="url(#rg20)"/><rect x="717.0" y="-17.14" width="36.6" height="34.27" fill="url(#rg21)"/><rect x="751.2" y="-17.06" width="36.6" height="34.12" fill="url(#rg22)"/><rect x="785.3" y="-16.99" width="36.6" height="33.98" fill="url(#rg23)"/><rect x="819.4" y="-16.91" width="36.6" height="33.83" fill="url(#rg24)"/><rect x="853.6" y="-16.84" width="36.6" height="33.67" fill="url(#rg25)"/><rect x="887.7" y="-16.76" width="36.6" height="33.52" fill="url(#rg26)"/><rect x="921.9" y="-16.69" width="36.6" height="33.38" fill="url(#rg27)"/><rect x="956.0" y="-16.61" width="36.6" height="33.23" fill="url(#rg28)"/><rect x="990.2" y="-16.54" width="36.6" height="33.08" fill="url(#rg29)"/><rect x="1024.3" y="-16.46" width="36.6" height="32.92" fill="url(#rg30)"/><rect x="1058.4" y="-16.39" width="36.6" height="32.77" fill="url(#rg31)"/><rect x="1092.6" y="-16.31" width="36.6" height="32.62" fill="url(#rg32)"/><rect x="1126.7" y="-16.24" width="36.6" height="32.48" fill="url(#rg33)"/><rect x="1160.9" y="-16.16" width="36.6" height="32.33" fill="url(#rg34)"/><rect x="1195.0" y="-16.09" width="36.6" height="32.17" fill="url(#rg35)"/><rect x="1229.2" y="-16.01" width="36.6" height="32.02" fill="url(#rg36)"/><rect x="1263.3" y="-15.94" width="36.6" height="31.88" fill="url(#rg37)"/><rect x="1297.4" y="-15.86" width="36.6" height="31.73" fill="url(#rg38)"/><rect x="1319.6" y="-15.79" width="46.1" height="31.57" rx="9" fill="url(#rg39)"/><linearGradient id="thm" gradientUnits="userSpaceOnUse" x1="450" y1="0" x2="950" y2="0"><stop offset="0" stop-color="#fff"/><stop offset="1" stop-color="#000"/></linearGradient><mask id="thmask" maskUnits="userSpaceOnUse" x="-10" y="-30" width="1000" height="60"><rect x="-10" y="-30" width="1000" height="60" fill="url(#thm)"/></mask><g mask="url(#thmask)"><path d="M4,-18.25 L950,-16.16 L950,-13.16 L4,-12.75 Z" fill="url(#thr)" opacity="0.3"/><path d="M4,-11.75 L950,-13.75 L950,1.00 L4,4.00 Z" fill="url(#thr2)" opacity="0.14"/><path d="M4,8.25 L950,6.00 L950,16.50 L4,18.00 Z" fill="url(#thr)" opacity="0.22"/></g><ellipse cx="2.5" cy="0" rx="5" ry="17.95" fill="#8e8a83"/><ellipse cx="5" cy="-7" rx="2.8" ry="3.5" fill="#f4f2ec"/></g></g><g filter="url(#b07)"><ellipse cx="0" cy="0" rx="12.5" ry="46.5" fill="url(#wedge3)" transform="translate(229.50,767.00) rotate(-17)" /><ellipse cx="0" cy="0" rx="12.5" ry="46.5" fill="url(#wedge3)" transform="translate(228.50,767.17) rotate(-17)" /><ellipse cx="0" cy="0" rx="12.5" ry="46.5" fill="url(#wedge3)" transform="translate(227.50,767.33) rotate(-17)" /><ellipse cx="0" cy="0" rx="12.5" ry="46.5" fill="url(#wedge3)" transform="translate(226.50,767.50) rotate(-17)" /><ellipse cx="0" cy="0" rx="12.5" ry="46.5" fill="url(#wedge3)" transform="translate(225.50,767.67) rotate(-17)" /><ellipse cx="0" cy="0" rx="12.5" ry="46.5" fill="url(#wedge3)" transform="translate(224.50,767.83) rotate(-17)" /><ellipse cx="0" cy="0" rx="12.5" ry="46.5" fill="url(#wedge3)" transform="translate(223.50,768.00) rotate(-17)" /><ellipse cx="0" cy="0" rx="12.5" ry="46.5" fill="url(#wedge3)" transform="translate(222.50,768.17) rotate(-17)" /><ellipse cx="0" cy="0" rx="12.5" ry="46.5" fill="url(#wedge3)" transform="translate(221.50,768.33) rotate(-17)" /><ellipse cx="0" cy="0" rx="12.5" ry="46.5" fill="url(#wedge3)" transform="translate(220.50,768.50) rotate(-17)" /><ellipse cx="0" cy="0" rx="12.5" ry="46.5" fill="url(#wedge3)" transform="translate(219.50,768.67) rotate(-17)" /><ellipse cx="0" cy="0" rx="12.5" ry="46.5" fill="url(#wedge3)" transform="translate(218.50,768.83) rotate(-17)" /><ellipse cx="0" cy="0" rx="12.5" ry="46.5" fill="#a2a2a2" transform="translate(217.50,769.00) rotate(-17)" /><ellipse cx="0" cy="0" rx="5" ry="19" fill="#d9d9d9" transform="translate(219.50,770.00) rotate(-17)" /><ellipse cx="0" cy="0" rx="2.25" ry="10.450000000000001" fill="#c4c4c4" transform="translate(217.25,775.70) rotate(-17)" /></g><g filter="url(#b07)"><path d="M238,771 C242,774 245,780 246,787 L242,789 C240,782 238,778 235,775 Z" fill="#8e8e8e"/></g><g filter="url(#b05)"><path d="M110,776.5 L149,763.6 L163,768.5 L172,796.9 L172,825 L128,838.1 C118,836 106,830 103.6,819.7 C100,808 100,796 101.5,788 Z" fill="#a6a6a6"/><path d="M110,776.5 L149,763.6 L163,768.5 L171,796 L128,810 L118,790 Z" fill="#f4f4f4"/><path d="M104,790 C103,780 108,776 112,777 C118,790 122,806 121,828 C113,826 106,818 104,805 Z" fill="#c4c4c4"/><path d="M110,800 C110,790 113,787 117,789 C120,800 121,812 119,822 C114,820 111,812 110,800 Z" fill="#f0f0f0"/></g><g filter="url(#b07)"><path d="M476,666 L521,661 L528.5,658 L530,668 L526,679 L512,688 L496,694 L486,694 L478,684 Z" fill="#3a0c0c"/><path d="M472,631 L487,632 L492,640 L499,641 L507,635 L517,638.5 L524,643.4 L528,651 L528.5,659 L521,663 L492,673 L484,668 L476,655 Z" fill="#f36a73"/><path d="M476,655 L484,668 L492,673 L521,663 L528.5,659 L528,663 L522,667 L494,677 L486,673 Z" fill="#c84a52"/><path d="M474,629 L486,627 L494,634 L501,636 L506,632 L512,633 L517,638.5 L507,635 L499,641 L492,640 L487,632 L472,631 Z" fill="#4a1515"/><path d="M462,668 L482,661 L483,668 L464,675 Z" fill="#e8787c" opacity="0.7"/></g><g filter="url(#b07)"><ellipse cx="0" cy="0" rx="31" ry="51" fill="url(#wedge)" transform="translate(1290.00,225.00) rotate(-9)" /><ellipse cx="0" cy="0" rx="31" ry="51" fill="url(#wedge)" transform="translate(1288.20,225.60) rotate(-9)" /><ellipse cx="0" cy="0" rx="31" ry="51" fill="url(#wedge)" transform="translate(1286.40,226.20) rotate(-9)" /><ellipse cx="0" cy="0" rx="31" ry="51" fill="url(#wedge)" transform="translate(1284.60,226.80) rotate(-9)" /><ellipse cx="0" cy="0" rx="31" ry="51" fill="url(#wedge)" transform="translate(1282.80,227.40) rotate(-9)" /><ellipse cx="0" cy="0" rx="31" ry="51" fill="#a3a3a3" transform="translate(1281.00,228.00) rotate(-9)" /><ellipse cx="0" cy="0" rx="12.5" ry="21" fill="#fcfcfc" transform="translate(1282.50,228.00) rotate(-9)" /><ellipse cx="0" cy="0" rx="5.625" ry="11.55" fill="#e2e2e2" transform="translate(1276.88,234.30) rotate(-9)" /></g><g filter="url(#b07)"><ellipse cx="0" cy="0" rx="31" ry="51" fill="url(#wedge)" transform="translate(1237.00,242.00) rotate(-9)" /><ellipse cx="0" cy="0" rx="31" ry="51" fill="url(#wedge)" transform="translate(1235.20,242.60) rotate(-9)" /><ellipse cx="0" cy="0" rx="31" ry="51" fill="url(#wedge)" transform="translate(1233.40,243.20) rotate(-9)" /><ellipse cx="0" cy="0" rx="31" ry="51" fill="url(#wedge)" transform="translate(1231.60,243.80) rotate(-9)" /><ellipse cx="0" cy="0" rx="31" ry="51" fill="url(#wedge)" transform="translate(1229.80,244.40) rotate(-9)" /><ellipse cx="0" cy="0" rx="31" ry="51" fill="#a3a3a3" transform="translate(1228.00,245.00) rotate(-9)" /><ellipse cx="0" cy="0" rx="13" ry="21" fill="#fcfcfc" transform="translate(1231.50,244.50) rotate(-9)" /><ellipse cx="0" cy="0" rx="5.8500000000000005" ry="11.55" fill="#e2e2e2" transform="translate(1225.65,250.80) rotate(-9)" /></g><g filter="url(#b07)"><ellipse cx="0" cy="0" rx="31" ry="52" fill="url(#wedge)" transform="translate(1179.00,261.00) rotate(-9)" /><ellipse cx="0" cy="0" rx="31" ry="52" fill="url(#wedge)" transform="translate(1177.20,261.60) rotate(-9)" /><ellipse cx="0" cy="0" rx="31" ry="52" fill="url(#wedge)" transform="translate(1175.40,262.20) rotate(-9)" /><ellipse cx="0" cy="0" rx="31" ry="52" fill="url(#wedge)" transform="translate(1173.60,262.80) rotate(-9)" /><ellipse cx="0" cy="0" rx="31" ry="52" fill="url(#wedge)" transform="translate(1171.80,263.40) rotate(-9)" /><ellipse cx="0" cy="0" rx="31" ry="52" fill="#a3a3a3" transform="translate(1170.00,264.00) rotate(-9)" /><ellipse cx="0" cy="0" rx="13" ry="21" fill="#fcfcfc" transform="translate(1173.50,264.50) rotate(-9)" /><ellipse cx="0" cy="0" rx="5.8500000000000005" ry="11.55" fill="#e2e2e2" transform="translate(1167.65,270.80) rotate(-9)" /></g><g filter="url(#b07)"><ellipse cx="0" cy="0" rx="29" ry="39.5" fill="#262626" transform="translate(1461.00,169.00) rotate(-10)" /><ellipse cx="0" cy="0" rx="29" ry="39.5" fill="#404040" transform="translate(1457.50,169.00) rotate(-10)" /><clipPath id="fcl"><ellipse cx="0" cy="0" rx="29" ry="39.5" transform="translate(1457.5,169) rotate(-10)"/></clipPath><g clip-path="url(#fcl)"><g transform="translate(1333,212.3) rotate(-19)"><rect x="118" y="-18.5" width="60" height="37" fill="url(#collg)"/></g></g></g><g transform="translate(1333,212.3) rotate(-19)" filter="url(#b05)"><rect x="0" y="-18.5" width="112" height="37" fill="url(#blkg)"/><ellipse cx="0" cy="0" rx="11" ry="18.5" fill="#2a2a2a"/><ellipse cx="-1" cy="0.5" rx="8" ry="15.5" fill="#000"/></g><g filter="url(#b07)"><ellipse cx="0" cy="0" rx="28" ry="39" fill="url(#wedge)" transform="translate(1610.00,415.00) rotate(-9)" /><ellipse cx="0" cy="0" rx="28" ry="39" fill="url(#wedge)" transform="translate(1608.40,415.60) rotate(-9)" /><ellipse cx="0" cy="0" rx="28" ry="39" fill="url(#wedge)" transform="translate(1606.80,416.20) rotate(-9)" /><ellipse cx="0" cy="0" rx="28" ry="39" fill="url(#wedge)" transform="translate(1605.20,416.80) rotate(-9)" /><ellipse cx="0" cy="0" rx="28" ry="39" fill="url(#wedge)" transform="translate(1603.60,417.40) rotate(-9)" /><ellipse cx="0" cy="0" rx="28" ry="39" fill="#a2a2a2" transform="translate(1602.00,418.00) rotate(-9)" /><ellipse cx="0" cy="0" rx="11" ry="18" fill="#fcfcfc" transform="translate(1605.00,418.00) rotate(-9)" /><ellipse cx="0" cy="0" rx="4.95" ry="9.9" fill="#e2e2e2" transform="translate(1600.05,423.40) rotate(-9)" /></g><g filter="url(#b07)"><ellipse cx="0" cy="0" rx="28" ry="39.5" fill="url(#wedge)" transform="translate(1567.00,433.00) rotate(-9)" /><ellipse cx="0" cy="0" rx="28" ry="39.5" fill="url(#wedge)" transform="translate(1565.40,433.60) rotate(-9)" /><ellipse cx="0" cy="0" rx="28" ry="39.5" fill="url(#wedge)" transform="translate(1563.80,434.20) rotate(-9)" /><ellipse cx="0" cy="0" rx="28" ry="39.5" fill="url(#wedge)" transform="translate(1562.20,434.80) rotate(-9)" /><ellipse cx="0" cy="0" rx="28" ry="39.5" fill="url(#wedge)" transform="translate(1560.60,435.40) rotate(-9)" /><ellipse cx="0" cy="0" rx="28" ry="39.5" fill="#a2a2a2" transform="translate(1559.00,436.00) rotate(-9)" /><ellipse cx="0" cy="0" rx="11" ry="18" fill="#fcfcfc" transform="translate(1562.00,436.00) rotate(-9)" /><ellipse cx="0" cy="0" rx="4.95" ry="9.9" fill="#e2e2e2" transform="translate(1557.05,441.40) rotate(-9)" /></g><g filter="url(#b07)"><ellipse cx="0" cy="0" rx="30" ry="40.5" fill="url(#wedge)" transform="translate(1523.00,451.00) rotate(-9)" /><ellipse cx="0" cy="0" rx="30" ry="40.5" fill="url(#wedge)" transform="translate(1521.40,451.60) rotate(-9)" /><ellipse cx="0" cy="0" rx="30" ry="40.5" fill="url(#wedge)" transform="translate(1519.80,452.20) rotate(-9)" /><ellipse cx="0" cy="0" rx="30" ry="40.5" fill="url(#wedge)" transform="translate(1518.20,452.80) rotate(-9)" /><ellipse cx="0" cy="0" rx="30" ry="40.5" fill="url(#wedge)" transform="translate(1516.60,453.40) rotate(-9)" /><ellipse cx="0" cy="0" rx="30" ry="40.5" fill="#a2a2a2" transform="translate(1515.00,454.00) rotate(-9)" /><ellipse cx="0" cy="0" rx="11.5" ry="18" fill="#fcfcfc" transform="translate(1516.00,453.60) rotate(-9)" /><ellipse cx="0" cy="0" rx="5.175" ry="9.9" fill="#e2e2e2" transform="translate(1510.83,459.00) rotate(-9)" /></g><g filter="url(#b07)"><ellipse cx="0" cy="0" rx="36" ry="44" fill="url(#bflange)" transform="translate(1719.00,369.00) rotate(-10)" /><clipPath id="bcl"><ellipse cx="0" cy="0" rx="36" ry="44" transform="translate(1719,369) rotate(-10)"/></clipPath><g clip-path="url(#bcl)"><path d="M1730,362 L1760,360 L1760,400 L1740,406 L1728,398 Z" fill="#0c1f4c"/><path d="M1706,340 L1722,334 L1741,335 L1748,346 L1714,359 L1708,352 Z" fill="#3ab4ff"/><path d="M1712,357 L1746,346 L1749,351 L1714,363 Z" fill="#0a2050"/><path d="M1714,362 L1732,356 L1734,373 L1718,380 Z" fill="#9fe0ff"/><path d="M1743,349 L1760,352 L1760,372 L1749,367 Z" fill="#5ac0ff"/></g><ellipse cx="0" cy="0" rx="24.4" ry="33" fill="#2f5890" transform="translate(1689.00,380.30) rotate(-8)" /><path d="M1700,352 C1708,356 1712,366 1713,378 L1710,380 C1709,369 1705,360 1698,355 Z" fill="#5aa8e8"/><ellipse cx="0" cy="0" rx="11" ry="15" fill="#0c2350" transform="translate(1693.00,379.00) rotate(-8)" /><path d="M1685,367 L1701,361 L1702,367 L1687,373 Z" fill="#2a7ff0"/><path d="M1688,393 L1703,387 L1702,393 L1690,398 Z" fill="#2a7ff0"/><path d="M1688,381 L1700,376 L1701,381 L1690,385 Z" fill="#bfe8ff"/></g><g filter="url(#b07)"><path d="M1898,271 L1910,262 L1935,256.4 L1943,261 L1946.2,282 L1944,299 L1921,306 L1906,303 L1899,292 Z" fill="#a6a6a6"/><path d="M1906,266 L1928,259 L1934,298 L1913,303 Z" fill="#c4c4c4"/><path d="M1914,276 L1928,271 L1930,292 L1916,296 Z" fill="#e0e0e0"/><path d="M1926,262 L1932,260 L1940,292 L1934,295 Z" fill="#dedede"/></g><g filter="url(#b07)"><ellipse cx="0" cy="0" rx="18" ry="26" fill="#c9c9c9" transform="translate(1882.50,295.50) rotate(-8)" /><ellipse cx="0" cy="0" rx="18" ry="26" fill="#a9a9a9" transform="translate(1878.50,296.60) rotate(-8)" /><ellipse cx="0" cy="0" rx="7.5" ry="16" fill="#f2f2f2" transform="translate(1879.50,298.00) rotate(-8)" /><path d="M1858,290 L1866,286 L1870,312 L1861,316 Z" fill="#f4f4f4"/></g><g filter="url(#b07)"><ellipse cx="0" cy="0" rx="36" ry="49.6" fill="url(#wedge)" transform="translate(1836.00,311.00) rotate(-6)" /><ellipse cx="0" cy="0" rx="36" ry="49.6" fill="url(#wedge)" transform="translate(1833.80,311.60) rotate(-6)" /><ellipse cx="0" cy="0" rx="36" ry="49.6" fill="url(#wedge)" transform="translate(1831.60,312.20) rotate(-6)" /><ellipse cx="0" cy="0" rx="36" ry="49.6" fill="url(#wedge)" transform="translate(1829.40,312.80) rotate(-6)" /><ellipse cx="0" cy="0" rx="36" ry="49.6" fill="url(#wedge)" transform="translate(1827.20,313.40) rotate(-6)" /><ellipse cx="0" cy="0" rx="36" ry="49.6" fill="#a5a5a5" transform="translate(1825.00,314.00) rotate(-6)" /><ellipse cx="0" cy="0" rx="14.5" ry="17.5" fill="#fcfcfc" transform="translate(1825.50,314.70) rotate(-6)" /><ellipse cx="0" cy="0" rx="6.525" ry="9.625" fill="#e2e2e2" transform="translate(1818.97,319.95) rotate(-6)" /></g><g transform="translate(1558.6,128.7) scale(0.94) translate(-1825,-314)"><g filter="url(#b07)"><path d="M1898,271 L1910,262 L1935,256.4 L1943,261 L1946.2,282 L1944,299 L1921,306 L1906,303 L1899,292 Z" fill="#a6a6a6"/><path d="M1906,266 L1928,259 L1934,298 L1913,303 Z" fill="#c4c4c4"/><path d="M1914,276 L1928,271 L1930,292 L1916,296 Z" fill="#e0e0e0"/><path d="M1926,262 L1932,260 L1940,292 L1934,295 Z" fill="#dedede"/></g><g filter="url(#b07)"><ellipse cx="0" cy="0" rx="18" ry="26" fill="#c9c9c9" transform="translate(1882.50,295.50) rotate(-8)" /><ellipse cx="0" cy="0" rx="18" ry="26" fill="#a9a9a9" transform="translate(1878.50,296.60) rotate(-8)" /><ellipse cx="0" cy="0" rx="7.5" ry="16" fill="#f2f2f2" transform="translate(1879.50,298.00) rotate(-8)" /><path d="M1858,290 L1866,286 L1870,312 L1861,316 Z" fill="#f4f4f4"/></g><g filter="url(#b07)"><ellipse cx="0" cy="0" rx="36" ry="49.6" fill="url(#wedge)" transform="translate(1836.00,311.00) rotate(-6)" /><ellipse cx="0" cy="0" rx="36" ry="49.6" fill="url(#wedge)" transform="translate(1833.80,311.60) rotate(-6)" /><ellipse cx="0" cy="0" rx="36" ry="49.6" fill="url(#wedge)" transform="translate(1831.60,312.20) rotate(-6)" /><ellipse cx="0" cy="0" rx="36" ry="49.6" fill="url(#wedge)" transform="translate(1829.40,312.80) rotate(-6)" /><ellipse cx="0" cy="0" rx="36" ry="49.6" fill="url(#wedge)" transform="translate(1827.20,313.40) rotate(-6)" /><ellipse cx="0" cy="0" rx="36" ry="49.6" fill="#a5a5a5" transform="translate(1825.00,314.00) rotate(-6)" /><ellipse cx="0" cy="0" rx="14.5" ry="17.5" fill="#fcfcfc" transform="translate(1825.50,314.70) rotate(-6)" /><ellipse cx="0" cy="0" rx="6.525" ry="9.625" fill="#e2e2e2" transform="translate(1818.97,319.95) rotate(-6)" /></g></g><g transform="translate(919.50,297.00) rotate(-19)"><rect x="-121.0" y="-57.75" width="242.0" height="115.5" fill="#fff" stroke="#5b9bd5" stroke-width="3.5"/><polygon points="121,24 148,24 148,9.2 167.4,37.5 148,65.6 148,52 121,52" fill="#5b9bd5"/><g font-family='"Liberation Sans", sans-serif' font-size="21" fill="#000"><text x="-107.7" y="-26" textLength="214.5" lengthAdjust="spacingAndGlyphs">AXLE WITH&#160;&#160;<tspan font-weight="bold">1/2</tspan>” HOLE</text><text x="-84" y="8.2" textLength="168" lengthAdjust="spacingAndGlyphs">THROUGH ENTIRE</text><text x="-37.6" y="42.4" textLength="74.3" lengthAdjust="spacingAndGlyphs">LENGTH</text></g></g><g transform="translate(1171.10,557.60) rotate(-22.1)"><rect x="-118.4" y="-64.4" width="236.8" height="128.8" fill="#fff" stroke="#ed7d31" stroke-width="3.5"/><polygon points="118.6,-1.5 153,-1.5 153,-15 178,12.3 153,39.6 153,26 118.6,26" fill="#ed7d31"/><g font-family='"Liberation Sans", sans-serif' font-size="21" fill="#000"><text x="-59.2" y="-32" textLength="116" lengthAdjust="spacingAndGlyphs">AXLE WITH</text><text x="-105" y="0.6" textLength="207" lengthAdjust="spacingAndGlyphs"><tspan font-weight="bold">3/8</tspan>”  to <tspan font-weight="bold">7/16</tspan>” HOLE</text><text x="-96" y="33" textLength="194" lengthAdjust="spacingAndGlyphs">THROUGH CENTER</text></g></g><rect x="1567" y="541.6" width="393.3" height="127.6" fill="#fff" stroke="#000" stroke-width="2.5"/><g font-family='"Liberation Sans", sans-serif' font-size="22.8" fill="#000"><text x="1577" y="576.9" textLength="342" lengthAdjust="spacingAndGlyphs">EXTRA WASHERS ARE PROVIDED</text><text x="1577" y="614.5" textLength="366" lengthAdjust="spacingAndGlyphs">AS SHIMS FOR ALIGNING WHEEL &amp;</text><text x="1577" y="651.5" textLength="343" lengthAdjust="spacingAndGlyphs">MAY OR MAY NOT BE REQUIRED</text></g><text x="592.9" y="820.8" font-family='"Liberation Sans", sans-serif' font-size="23" fill="#000" textLength="415.6" lengthAdjust="spacingAndGlyphs">CUT OFF EXCESS ROD AFTER INSTALLED</text><text transform="translate(531.5,593) rotate(-20.3)" x="0" y="0" font-family='"Liberation Sans", sans-serif' font-size="21.7" fill="#000" textLength="359.3" lengthAdjust="spacingAndGlyphs">INSERT ROD THROUGH REAR AXLE</text><polygon points="879.0,445.5 922.7,428.1 915.1,410.1 951.6,424.2 935.3,459.2 928.5,441.9 884.1,459.5" fill="#00b050" stroke="#000" stroke-width="2.2" stroke-linejoin="miter"/><path d="M440.2,734.2 L467.8,760.2 L454.3,760.2 L454.3,778 C454.3,788 459,794.3 467,794.3 L507.6,794.3 L507.6,819.7 L472,819.7 C445,819.7 426.4,800 426.4,772 L426.4,760.2 L412.6,760.2 Z" fill="#00b050" stroke="#000" stroke-width="2.2"/><rect x="513" y="757.4" width="70.3" height="116.5" fill="#f6f6f6"/><path d="M529.1,760.7 C525.5,763 524.6,768 524.8,776.8 L526.4,782.1 L542.5,823 C539.5,829 537.3,836 536.5,846.4 L540.3,849.3 C540.5,842 542.5,836 547.9,831.7 C553.3,836 555.3,842 555.4,849.3 L559.2,846.4 C558.4,836 556.2,829 553.2,823 L568.6,783.5 C570.8,778 571.2,768 566.6,760 C564.5,763 563.5,767 563.3,770.1 L547.9,806.2 L533.1,770.1 C532.8,766 531.5,762.5 529.1,760.7 Z" fill="#000"/><circle cx="527.1" cy="858.6" r="10" fill="none" stroke="#000" stroke-width="4"/><circle cx="570" cy="858.6" r="10" fill="none" stroke="#000" stroke-width="4"/><path d="M1096.4,287.3 L1318,218.2" fill="none" stroke="#000" stroke-width="2.25" stroke-dasharray="10 8"/><path d="M1484,155.2 L1549,134.2" fill="none" stroke="#000" stroke-width="2.25" stroke-dasharray="10 8"/><polygon points="1555.8,132 1549.29,137.89 1547.08,131.03" fill="#000"/><path d="M1096.4,287.3 L1160.8,352.9 L1551.6,211.9 L1583.2,245.7" fill="none" stroke="#000" stroke-width="2.25" stroke-dasharray="10 8"/><path d="M1575.3,256 L1587.2,251 L1633.9,298.8 L1285.2,434.2 L1369.5,513.6 L1700,374.4" fill="none" stroke="#000" stroke-width="2.25" stroke-dasharray="10 8"/><path d="M1752,352.6 L1830,319.2" fill="none" stroke="#000" stroke-width="2.25" stroke-dasharray="10 8"/><polygon points="1836.7,316.3 1830.76,322.76 1827.93,316.14" fill="#000"/><path d="M53.5,827.1999999999999 L109.7,807.4" fill="none" stroke="#000" stroke-width="2.25" stroke-dasharray="10 8"/><polygon points="47.5,829.3 53.85,823.25 56.24,830.04" fill="#000"/><path d="M164.9,787.2 L222.7,767.1" fill="none" stroke="#000" stroke-width="2.25" stroke-dasharray="10 8"/><path d="M238.5,760.1 L292.8,741.7" fill="none" stroke="#000" stroke-width="2.25" stroke-dasharray="10 8"/><path d="M1272.4,271.2 C1272.6,424.9 1411.5,561.5 1566.4,553.4" fill="none" stroke="#000" stroke-width="2.2"/><path d="M1512.7,471.0 C1512.8,502.9 1528.8,550.0 1566.4,552.5" fill="none" stroke="#000" stroke-width="2.2"/>
</svg>
</body></html>
